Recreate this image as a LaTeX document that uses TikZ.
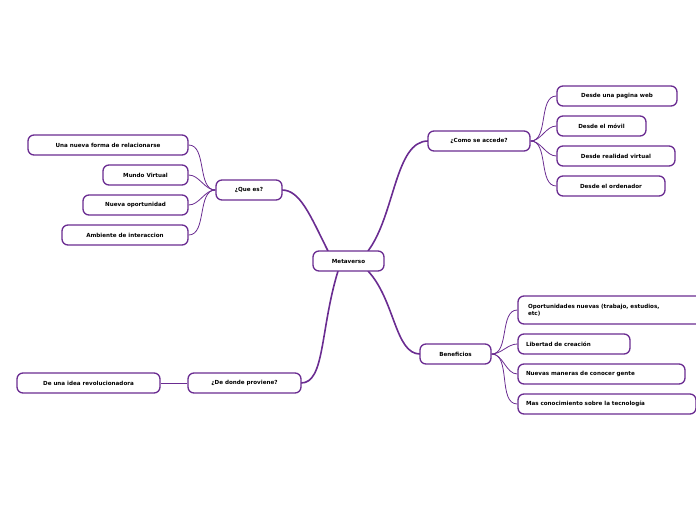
\documentclass[tikz,border=0pt]{standalone}
\usepackage{fontspec}
\setmainfont{DejaVu Sans}
\begin{document}
\begin{tikzpicture}[x=1pt,y=-1pt,
  box/.style={draw=pur,line width=1.3pt,rounded corners=6pt,minimum height=20pt,inner sep=0pt,font=\bfseries\fontsize{5.6}{6.6}\selectfont,text=black,fill=white},
  link/.style={draw=pur,line width=0.8pt},
  thick link/.style={draw=pur,line width=1.6pt}]
\definecolor{pur}{HTML}{6A2C91}
\useasboundingbox (0,0) rectangle (696,520);
\coordinate (mtr) at (368,251);
\coordinate (mtl) at (328,251);
\coordinate (mbr) at (368,271);
\coordinate (mbl) at (338,271);
\coordinate (ce) at (530,141);
\coordinate (qw) at (216,190);
\coordinate (be) at (491,354);
\coordinate (dw) at (188,383);
\draw[thick link] (mtr) .. controls (395,215) and (395,141) .. (428,141);
\draw[thick link] (mtl) .. controls (310,215) and (300,190) .. (282,190);
\draw[thick link] (mbr) .. controls (395,300) and (395,354) .. (420,354);
\draw[thick link] (mbl) .. controls (320,330) and (325,383) .. (301,383);
\node[box,minimum width=71pt] (m) at (348.5,261) {Metaverso};
\node[box,minimum width=102pt] (c) at (479,141) {¿Como se accede?};
\node[box,minimum width=120pt] (c1) at (617,96) {Desde una pagina web};
\node[box,minimum width=89pt] (c2) at (601.5,126) {Desde el móvil};
\node[box,minimum width=118pt] (c3) at (616,156) {Desde realidad virtual};
\node[box,minimum width=108pt] (c4) at (611,186) {Desde el ordenador};
\node[box,minimum width=66pt] (q) at (249,190) {¿Que es?};
\node[box,minimum width=160pt] (q1) at (108,145) {Una nueva forma de relacionarse};
\node[box,minimum width=85pt] (q2) at (145.5,175) {Mundo Virtual};
\node[box,minimum width=105pt] (q3) at (135.5,205) {Nueva oportunidad};
\node[box,minimum width=126pt] (q4) at (125,235) {Ambiente de interaccion};
\node[box,minimum width=71pt] (b) at (455.5,354) {Beneficios};
\node[box,minimum width=190pt,minimum height=28pt,text width=170pt,align=left] (b1) at (613,310) {Oportunidades nuevas (trabajo, estudios,\\etc)};
\node[box,minimum width=112pt,text width=96pt,align=left] (b2) at (574,344) {Libertad de creación};
\node[box,minimum width=167pt,text width=151pt,align=left] (b3) at (601.5,374) {Nuevas maneras de conocer gente};
\node[box,minimum width=178pt,text width=162pt,align=left] (b4) at (607,404) {Mas conocimiento sobre la tecnología};
\node[box,minimum width=113pt] (d) at (244.5,383) {¿De donde proviene?};
\node[box,minimum width=143pt] (d1) at (88.5,383) {De una idea revolucionadora};
\foreach \t in {c1,c2,c3,c4}
  \draw[link] (c.east) to[out=0,in=180,looseness=0.9] (\t.west);
\foreach \t in {q1,q2,q3,q4}
  \draw[link] (q.west) to[out=180,in=0,looseness=0.9] (\t.east);
\foreach \t in {b1,b2,b3,b4}
  \draw[link] (b.east) to[out=0,in=180,looseness=0.9] (\t.west);
\draw[link] (d.west) -- (d1.east);
\end{tikzpicture}
\end{document}
